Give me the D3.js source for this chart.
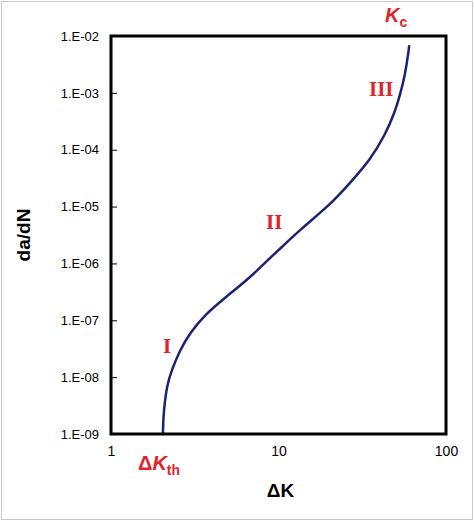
<!DOCTYPE html>
<html><head><meta charset="utf-8">
<script src="https://cdn.jsdelivr.net/npm/d3@7"></script>
<style>body{margin:0;background:#fff}</style></head>
<body><svg width="474" height="521"></svg>
<script>
const deltaK = [2.04, 2.05, 2.07, 2.16, 2.31, 2.58, 2.96, 3.64, 4.79, 6.76, 8.89, 10.2, 13.4, 20.3, 26.7, 35.2, 43.2, 49.6, 53.1, 56.9, 60.1, 60.3];
const dadN = [1e-9, 1.6e-9, 2.7e-9, 7.4e-9, 1.35e-8, 3.0e-8, 6.0e-8, 1.26e-7, 2.5e-7, 5.6e-7, 1.25e-6, 1.8e-6, 3.9e-6, 1.07e-5, 2.6e-5, 6.6e-5, 1.8e-4, 4.6e-4, 9.2e-4, 2.0e-3, 6.0e-3, 6.9e-3];
const xTicks = [1, 10, 100];
const yTicks = [1e-9, 1e-8, 1e-7, 1e-6, 1e-5, 1e-4, 1e-3, 1e-2];
const yTickLabels = ["1.E-09", "1.E-08", "1.E-07", "1.E-06", "1.E-05", "1.E-04", "1.E-03", "1.E-02"];

const svg = d3.select("svg").style("font-family", "Arial, 'Liberation Sans', sans-serif");
const m = {l: 111, r: 446, t: 36, b: 434};

// light outer frame
svg.append("rect").attr("x", 1.5).attr("y", 1.5).attr("width", 471).attr("height", 518)
  .attr("fill", "none").attr("stroke", "#c8c8c8").attr("stroke-width", 1);

const x = d3.scaleLog().domain([1, 100]).range([m.l, m.r]);
const y = d3.scaleLog().domain([1e-9, 1e-2]).range([m.b, m.t]);

svg.append("g").attr("transform", `translate(0,${m.b})`)
  .call(d3.axisBottom(x).tickValues(xTicks).tickFormat(d3.format("d")).tickSize(0).tickPadding(12))
  .call(g => g.select(".domain").remove())
  .selectAll("text").attr("font-size", 14).attr("fill", "#000");

svg.append("g").attr("transform", `translate(${m.l},0)`)
  .call(d3.axisLeft(y).tickValues(yTicks).tickFormat((d, i) => yTickLabels[i]).tickSize(6).tickPadding(6))
  .call(g => g.select(".domain").remove())
  .call(g => g.selectAll("line").attr("stroke", "#000").attr("x1", 0).attr("x2", 6))
  .selectAll("text").attr("font-size", 13).attr("fill", "#000");

const line = d3.line().x((d, i) => x(deltaK[i])).y(d => y(d)).curve(d3.curveBasis);
svg.append("path").datum(dadN).attr("d", line)
  .attr("fill", "none").attr("stroke", "#1c2370").attr("stroke-width", 2.5);

svg.append("rect").attr("x", m.l).attr("y", m.t).attr("width", m.r - m.l).attr("height", m.b - m.t)
  .attr("fill", "none").attr("stroke", "#000").attr("stroke-width", 3);

svg.append("text").attr("transform", `translate(30,${(m.t + m.b) / 2}) rotate(-90)`)
  .attr("text-anchor", "middle").attr("font-size", 19).attr("font-weight", "bold").text("da/dN");
svg.append("text").attr("x", (m.l + m.r) / 2 + 2).attr("y", 497)
  .attr("text-anchor", "middle").attr("font-size", 19).attr("font-weight", "bold").text("ΔK");

const red = "#e0242b";
const serif = "'Liberation Serif', 'DejaVu Serif', serif";
const lab = (px, py, t) => svg.append("text").attr("x", px).attr("y", py).attr("fill", red)
  .attr("font-family", serif).attr("font-weight", "bold").attr("font-size", 21).text(t);
lab(163, 353, "I");
lab(266, 229, "II");
lab(369, 96, "III");

const kc = svg.append("text").attr("x", 385).attr("y", 22).attr("fill", red)
  .attr("font-family", "Arial, 'Liberation Sans', sans-serif").attr("font-weight", "bold").attr("font-size", 20);
kc.append("tspan").attr("font-style", "italic").text("K");
kc.append("tspan").attr("font-size", 14).attr("dy", 5).text("c");

const kth = svg.append("text").attr("x", 138).attr("y", 470).attr("fill", red)
  .attr("font-family", "Arial, 'Liberation Sans', sans-serif").attr("font-weight", "bold").attr("font-size", 20);
kth.append("tspan").text("Δ");
kth.append("tspan").attr("font-style", "italic").text("K");
kth.append("tspan").attr("font-size", 14).attr("dy", 5).text("th");
</script></body></html>
